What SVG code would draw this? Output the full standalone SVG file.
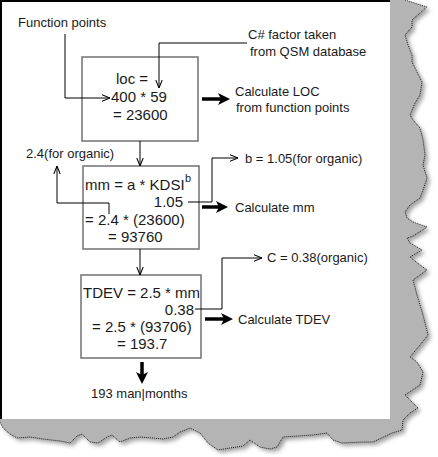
<svg xmlns="http://www.w3.org/2000/svg" width="438" height="457" viewBox="0 0 438 457">
<defs>
<style>
.t{font-family:"Liberation Sans",Arial,sans-serif;fill:#1a1a1a}
.s13{font-size:13px}
.s15{font-size:15px}
.box{fill:#fff;stroke:#7a7a7a;stroke-width:1.6}
.thin{fill:none;stroke:#000;stroke-width:1}
.thick{fill:none;stroke:#000;stroke-width:3.5}
.edge{fill:none;stroke:#111;stroke-width:0.9;stroke-dasharray:1 1}
</style>
<marker id="ah" markerUnits="userSpaceOnUse" viewBox="0 0 10 10" refX="10" refY="5" markerWidth="8" markerHeight="8" orient="auto">
<path d="M0,1 L10,5 L0,9" fill="none" stroke="#000" stroke-width="1.3"/>
</marker>
<marker id="ahT" markerUnits="userSpaceOnUse" viewBox="0 0 12 12" refX="3" refY="6" markerWidth="12" markerHeight="12" orient="auto">
<path d="M0,0 L12,6 L0,12 L3,6 Z" fill="#000"/>
</marker>
<filter id="blur" x="-10%" y="-10%" width="120%" height="120%">
<feGaussianBlur stdDeviation="2.2"/>
</filter>
</defs>

<g id="page">
<rect x="0" y="0" width="438" height="457" fill="#fff"/>
<polygon points="390,0 405,0 427,7 420,13 412,20 412,27 405,35 408,45 412,55 412,62 417,72 422,82 420,95 415,103 410,115 413,120 420,128 423,140 425,155 423,165 427,178 423,190 420,198 410,205 405,212 407,218 413,222 427,227 413,236 407,238 410,243 422,250 410,257 420,265 427,270 413,280 417,295 423,315 428,335 420,345 410,357 417,362 423,372 420,385 405,395 413,403 418,408 410,413 403,420 402,430 392,433 373,442 363,442 342,443 333,440 327,433 313,435 283,437 277,447 270,449 260,447 250,440 243,446 230,448 218,450 208,443 200,433 190,428 180,432 173,437 163,439 153,438 140,437 130,438 120,442 112,435 107,437 98,443 90,442 82,434 77,436 70,443 60,441 43,439 30,437 17,438 10,434 3,428 0,422 0,419 390,419" fill="#555" opacity="0.55" filter="url(#blur)" transform="translate(3,3)"/>
<polygon points="390,0 405,0 427,7 420,13 412,20 412,27 405,35 408,45 412,55 412,62 417,72 422,82 420,95 415,103 410,115 413,120 420,128 423,140 425,155 423,165 427,178 423,190 420,198 410,205 405,212 407,218 413,222 427,227 413,236 407,238 410,243 422,250 410,257 420,265 427,270 413,280 417,295 423,315 428,335 420,345 410,357 417,362 423,372 420,385 405,395 413,403 418,408 410,413 403,420 402,430 392,433 373,442 363,442 342,443 333,440 327,433 313,435 283,437 277,447 270,449 260,447 250,440 243,446 230,448 218,450 208,443 200,433 190,428 180,432 173,437 163,439 153,438 140,437 130,438 120,442 112,435 107,437 98,443 90,442 82,434 77,436 70,443 60,441 43,439 30,437 17,438 10,434 3,428 0,422 0,419 390,419" fill="#b4b4b4"/>
<polyline class="edge" points="405,0 427,7 420,13 412,20 412,27 405,35 408,45 412,55 412,62 417,72 422,82 420,95 415,103 410,115 413,120 420,128 423,140 425,155 423,165 427,178 423,190 420,198 410,205 405,212 407,218 413,222 427,227 413,236 407,238 410,243 422,250 410,257 420,265 427,270 413,280 417,295 423,315 428,335 420,345 410,357 417,362 423,372 420,385 405,395 413,403 418,408 410,413 403,420 402,430 392,433 373,442 363,442 342,443 333,440 327,433 313,435 283,437 277,447 270,449 260,447 250,440 243,446 230,448 218,450 208,443 200,433 190,428 180,432 173,437 163,439 153,438 140,437 130,438 120,442 112,435 107,437 98,443 90,442 82,434 77,436 70,443 60,441 43,439 30,437 17,438 10,434 3,428 0,422"/>
<rect x="0" y="0" width="390" height="419" fill="#fff"/>
<path d="M1,419 V1 H390" fill="none" stroke="#000" stroke-width="2"/>
</g>

<g id="box-loc">
<rect class="box" x="82" y="57" width="116" height="84"/>
<text class="t s15" x="116" y="84">loc =</text>
<text class="t s15" x="111" y="102">400 * 59</text>
<text class="t s15" x="113" y="120">= 23600</text>
</g>

<g id="box-mm">
<rect class="box" x="83" y="166" width="116" height="83"/>
<text class="t s15" x="85" y="190">mm = a * KDSI</text>
<text class="t" font-size="11" x="185" y="182">b</text>
<text class="t s15" x="183" y="207" text-anchor="end">1.05</text>
<text class="t s15" x="85" y="225">= 2.4 * (23600)</text>
<text class="t s15" x="108" y="242">= 93760</text>
</g>

<g id="box-tdev">
<rect class="box" x="81" y="275" width="120" height="83"/>
<text class="t s15" x="83" y="298">TDEV = 2.5 * mm</text>
<text class="t s15" x="194" y="315" text-anchor="end">0.38</text>
<text class="t s15" x="92" y="332">= 2.5 * (93706)</text>
<text class="t s15" x="117" y="349">= 193.7</text>
</g>

<g id="labels">
<text class="t s13" x="18" y="27">Function points</text>
<text class="t s13" x="248" y="39">C# factor taken</text>
<text class="t s13" x="250" y="56">from QSM database</text>
<text class="t s13" x="235" y="96">Calculate LOC</text>
<text class="t s13" x="236" y="112">from function points</text>
<text class="t s13" x="26" y="158">2.4(for organic)</text>
<text class="t s13" x="245" y="163">b = 1.05(for organic)</text>
<text class="t s13" x="235" y="212">Calculate mm</text>
<text class="t s13" x="267" y="262">C = 0.38(organic)</text>
<text class="t s13" x="238" y="324">Calculate TDEV</text>
<text class="t s13" x="91" y="398">193 man|months</text>
</g>

<g id="connectors">
<path class="thin" d="M65,34 V98 H110" marker-end="url(#ah)"/>
<path class="thin" d="M247,43 H159 V88" marker-end="url(#ah)"/>
<path class="thin" d="M140,141 V166" marker-end="url(#ah)"/>
<path class="thin" d="M109,214 V203 H57 V166" marker-end="url(#ah)"/>
<path class="thin" d="M188,202 H212 V158 H238" marker-end="url(#ah)"/>
<path class="thin" d="M140,249 V275" marker-end="url(#ah)"/>
<path class="thin" d="M195,309 H222 V258 H262" marker-end="url(#ah)"/>
<path class="thick" d="M202,99 H221" marker-end="url(#ahT)"/>
<path class="thick" d="M202,207 H219" marker-end="url(#ahT)"/>
<path class="thick" d="M205,319 H224" marker-end="url(#ahT)"/>
<path class="thick" d="M142,362 V375" marker-end="url(#ahT)"/>
</g>
</svg>
